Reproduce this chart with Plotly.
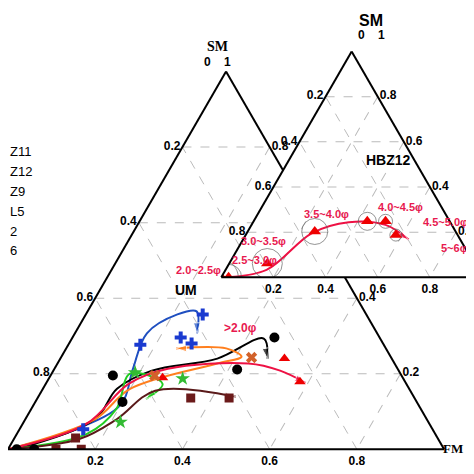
import plotly.graph_objects as go

# main ternary data: (SM=a, FM=c); UM = 1-a-c
blk_sm = [0.296, 0.195, 0.125, 0.211, 0.0, 0.0]
blk_fm = [0.463, 0.143, 0.200, 0.420, 0.06, 0.02]
blu_sm = [0.357, 0.277, 0.296, 0.280, 0.053]
blu_fm = [0.268, 0.165, 0.248, 0.281, 0.146]
red_sm = [0.240, 0.179, 0.189]
red_fm = [0.514, 0.580, 0.260]
org_sm = [0.243, 0.195]
org_fm = [0.437, 0.239]
brn_sm = [0.136, 0.136, 0.0, 0.0, 0.03]
brn_fm = [0.351, 0.439, 0.11, 0.168, 0.14]
grn_sm = [0.203, 0.187, 0.072]
grn_fm = [0.190, 0.307, 0.222]

line_blu = ([0, .053, .12, .213, .307, .357, .365, .307], [0, .13, .2, .18, .165, .21, .25, .28])
line_blk = ([0, .08, .16, .208, .24, .293, .24], [.018, .16, .17, .226, .36, .44, .475])
line_red = ([0, .067, .173, .213, .227, .208, .176], [0, .146, .19, .26, .438, .52, .594])
line_org = ([0, .08, .16, .227, .245, .267, .267], [0, .16, .2, .366, .413, .367, .252])
line_grn = ([0, .04, .107, .2, .173, .133], [0, .16, .195, .18, .268, .25])
line_brn = ([0, .027, .08, .155, .139], [0, .15, .21, .26, .453])

# inset HBZ12
ins_sm = [0.0, 0.0, 0.061, 0.203, 0.248, 0.248, 0.187]
ins_fm = [0.0, 0.028, 0.146, 0.257, 0.436, 0.506, 0.576]
ins_size = [34, 26, 30, 26, 18, 14, 12]
ins_line = ([0, .033, .195, .244, .232, .167], [.01, .157, .249, .367, .514, .635])
ins_labels = ["2.0~2.5φ", "2.5~3.0φ", "3.0~3.5φ", "3.5~4.0φ", "4.0~4.5φ", "4.5~5.0φ", "5~6φ"]

legend_names = ["Z11", "Z12", "Z9", "L5", "2", "6"]
ticks = [0.2, 0.4, 0.6, 0.8]
ticktxt = ["0.8", "0.6", "0.4", "0.2"]

fig = go.Figure()

def um(a, c):
    return [round(1 - x - y, 4) for x, y in zip(a, c)]

def pts(a, c, color, symbol, size, sub):
    fig.add_trace(go.Scatterternary(a=a, b=um(a, c), c=c, mode="markers", subplot=sub,
                                    marker=dict(color=color, symbol=symbol, size=size,
                                                line=dict(width=0)), showlegend=False))

def line(ln, color, sub, w=2):
    a, c = ln
    n = len(a)
    fig.add_trace(go.Scatterternary(a=a, b=um(a, c), c=c, mode="lines+markers", subplot=sub,
                                    line=dict(color=color, width=w, shape="spline"),
                                    marker=dict(symbol="arrow", size=[0]*(n-1)+[11], color=color,
                                                angleref="previous"), showlegend=False))

line(line_blu, "#1f4fc0", "ternary")
line(line_blk, "black", "ternary")
line(line_org, "#ff7f1e", "ternary")
line(line_grn, "#22cc22", "ternary")
line(line_brn, "#5a1a1a", "ternary")
line(line_red, "#ee1144", "ternary")
pts(blk_sm, blk_fm, "black", "circle", 10, "ternary")
pts(blu_sm, blu_fm, "#1a3ad0", "cross", 10, "ternary")
pts(red_sm, red_fm, "#ee0000", "triangle-up", 10, "ternary")
pts(org_sm, org_fm, "#d2622a", "x", 10, "ternary")
pts(brn_sm, brn_fm, "#6b1a1a", "square", 9, "ternary")
pts(grn_sm, grn_fm, "#33bb33", "star", 11, "ternary")

line(ins_line, "#ee1144", "ternary2")
fig.add_trace(go.Scatterternary(a=ins_sm, b=um(ins_sm, ins_fm), c=ins_fm, mode="markers", subplot="ternary2",
                                marker=dict(symbol="circle-open", size=ins_size, color="#666", line=dict(width=1)),
                                showlegend=False))
pts(ins_sm, ins_fm, "#ee0000", "triangle-up", 11, "ternary2")

def axis():
    return dict(tickvals=ticks, ticktext=ticktxt, showgrid=True, gridcolor="#bbb", griddash="dash",
                linecolor="black", linewidth=2, ticks="", title="",
                tickfont=dict(family="Liberation Sans", size=12, color="black", weight="bold"))

for name, dom in [("ternary", dict(x=[0, 0.92], y=[0.055, 0.88])),
                  ("ternary2", dict(x=[0.45, 1.0], y=[0.39, 0.95]))]:
    fig.update_layout({name: dict(domain=dom, bgcolor="white", sum=1,
                                  aaxis=axis(), baxis=axis(), caxis=axis())})

ann = []
def t(x, y, s, size=12, color="black", fam="Liberation Sans", bold=True, xa="center"):
    ann.append(dict(x=x, y=y, xref="paper", yref="paper", text=f"<b>{s}</b>" if bold else s, showarrow=False,
                    font=dict(size=size, color=color, family=fam), xanchor=xa, yanchor="middle"))
t(209/474, 1-38/474, "SM", 14, fam="Liberation Serif")
t(209/474, 1-54/474, "0    1", 12)
t(363/474, 1-12/474, "SM", 16)
t(363/474, 1-27/474, "0    1", 12)
t(380/474, 1-152/474, "HBZ12", 14)
t(178/474, 1-282/474, "UM", 14)
t(445/474, 1-440/474, "FM", 13, fam="Liberation Serif")
t(232/474, 1-320/474, "&gt;2.0φ", 12, "#e8194f")
lab_pos = [(190, 262), (246, 252), (256, 233), (318, 206), (392, 199)]
for (x, y), s in zip(lab_pos, ins_labels[:5]):
    t(x/474, 1-y/474, s, 11, "#e8194f")
t(462/474, 1-214/474, ins_labels[5], 11, "#e8194f", xa="right")
t(462/474, 1-240/474, ins_labels[6], 11, "#e8194f", xa="right")
for i, s in enumerate(legend_names):
    t(0, 1-(143+20*i)/474, s, 13, bold=False, xa="left")
fig.update_layout(annotations=ann, width=474, height=474, margin=dict(l=0, r=0, t=0, b=0),
                  paper_bgcolor="white", showlegend=False)
fig.write_html("out.html")
